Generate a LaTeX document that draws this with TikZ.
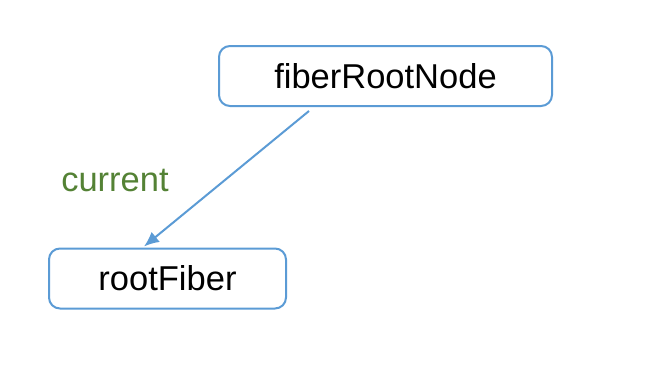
\documentclass[tikz,border=0pt]{standalone}
\usepackage{fontspec}
\setmainfont{Liberation Sans}
\usepackage{tikz}
\usetikzlibrary{positioning,calc,arrows.meta}
\definecolor{lineBlue}{RGB}{91,155,213}
\definecolor{labelGreen}{RGB}{84,130,53}

\begin{document}
\begin{tikzpicture}[x=1pt, y=-1pt, every node/.style={font=\fontsize{34.5}{40}\selectfont, align=center},
        fiberbox/.style={draw=lineBlue, line width=2pt, rounded corners=11pt, minimum height=60pt}]
        \useasboundingbox (0,0) rectangle (659,380);

        \node[fiberbox, minimum width=333pt] (fiberRoot) at (385.5, 76) {fiberRootNode};
        \node[fiberbox, minimum width=237pt] (rootFiber) at (167.5, 278.5) {rootFiber};

        \draw[lineBlue, line width=2pt, -{Latex[length=15pt, width=13pt]}]
            ($(fiberRoot.south west)+(91,4)$) -- ($(rootFiber.north west)+(96,-1)$);
        \node[text=labelGreen] (current) at (115, 181) {current};
    \end{tikzpicture}
\end{document}
